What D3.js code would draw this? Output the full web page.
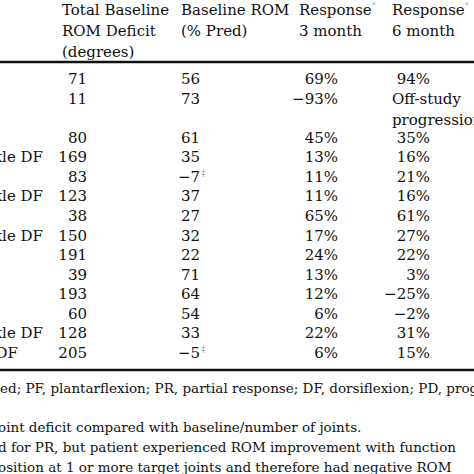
<!DOCTYPE html>
<html><head><meta charset="utf-8">
<script src="https://cdn.jsdelivr.net/npm/d3@7"></script>
<style>body{margin:0;background:#fff}svg{display:block}</style>
</head><body>
<script>
// table values, one entry per patient row
const rowLabels = ["", "", "", "Ankle DF", "", "Ankle DF", "", "Ankle DF", "", "", "", "", "Ankle DF", "Knee PF, DF"];
const deficit = [71, 11, 80, 169, 83, 123, 38, 150, 191, 39, 193, 60, 128, 205];
const baseRom = ["56", "73", "61", "35", "\u22127", "37", "27", "32", "22", "71", "64", "54", "33", "\u22125"];
const romMark = [false, false, false, false, true, false, false, false, false, false, false, false, false, true];
const resp3 = ["69%", "\u221293%", "45%", "13%", "11%", "11%", "65%", "17%", "24%", "13%", "12%", "6%", "22%", "6%"];
const resp6 = ["94%", "Off-study|progression", "35%", "16%", "21%", "16%", "61%", "27%", "22%", "3%", "\u221225%", "\u22122%", "31%", "15%"];
const headers = [["Total Baseline", "ROM Deficit", "(degrees)"], ["Baseline ROM", "(% Pred)"], ["Response*", "3 month"], ["Response*", "6 month"]];
const footnotes = [
  "ed; PF, plantarflexion; PR, partial response; DF, dorsiflexion; PD, prog",
  "oint deficit compared with baseline/number of joints.",
  "d for PR, but patient experienced ROM improvement with function",
  "osition at 1 or more target joints and therefore had negative ROM"
];

const W = 474, H = 474;
const font = "'DejaVu Serif', serif";
const svg = d3.select("body").append("svg").attr("width", W).attr("height", H)
  .style("font-family", font).style("font-size", "15px").style("fill", "#111");

// row line index accounts for the wrapped "Off-study progression" cell
const lineIdx = deficit.map((d, i) => i < 2 ? i : i + 1);
const y = d3.scaleLinear().domain([0, 14]).range([79, 353]);
const colX = { label: 43, c1: 87, c2h: 181, c2: 200, c3h: 299, c3: 338, c4h: 392, c4: 430, c1h: 62 };
const headX = [colX.c1h, colX.c2h, colX.c3h, colX.c4h];
const lh = 21;

headers.forEach((lines, c) => {
  lines.forEach((t, j) => {
    const tx = svg.append("text").attr("x", headX[c]).attr("y", 15 + j * lh);
    if (t.endsWith("*")) {
      tx.text(t.slice(0, -1));
      tx.append("tspan").attr("dy", -7).style("font-size", "8px").style("fill", "#7fa9c8").text("*");
    } else tx.text(t);
  });
});

svg.append("line").attr("x1", 0).attr("x2", W).attr("y1", 62).attr("y2", 62).attr("stroke", "#111").attr("stroke-width", 2.5);
svg.append("line").attr("x1", 0).attr("x2", W).attr("y1", 370).attr("y2", 370).attr("stroke", "#111").attr("stroke-width", 2.5);

const rows = svg.selectAll("g.row").data(deficit).join("g").attr("class", "row")
  .attr("transform", (d, i) => `translate(0,${y(lineIdx[i]) + 5})`);

rows.append("text").attr("x", (d, i) => i === 13 ? 18 : colX.label).attr("text-anchor", "end").text((d, i) => rowLabels[i]);
rows.append("text").attr("x", colX.c1).attr("text-anchor", "end").text(d => d);
rows.append("text").attr("x", colX.c2).attr("text-anchor", "end").text((d, i) => baseRom[i]);
rows.filter((d, i) => romMark[i]).append("text").attr("x", colX.c2 + 1).attr("y", -6)
  .style("font-size", "9px").style("fill", "#7fa9c8").text("\u2021");
rows.append("text").attr("x", colX.c3).attr("text-anchor", "end").text((d, i) => resp3[i]);
rows.each(function (d, i) {
  const g = d3.select(this);
  const v = resp6[i];
  if (v.includes("|")) {
    v.split("|").forEach((t, j) => g.append("text").attr("x", colX.c4h).attr("y", j * lh).text(t));
  } else {
    g.append("text").attr("x", colX.c4).attr("text-anchor", "end").text(v);
  }
});

const fy = [393, 432, 452, 472];
footnotes.forEach((t, i) => svg.append("text").attr("x", i === 0 ? 0 : -2).attr("y", fy[i]).style("font-size", "13.5px").text(t));
</script>
</body></html>
